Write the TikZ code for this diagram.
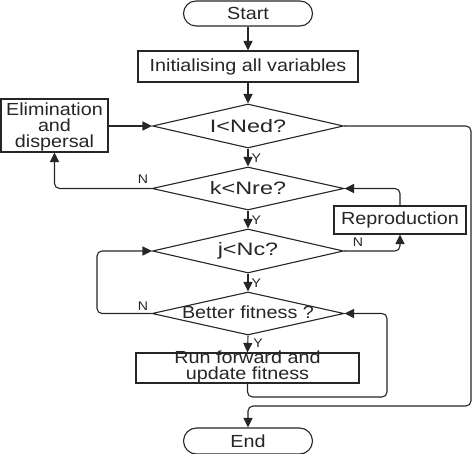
\documentclass[tikz,border=0pt]{standalone}
\usepackage{fontspec}
\setmainfont{Liberation Sans}
\usetikzlibrary{shapes.geometric,shapes.misc,arrows.meta}
\newcommand{\sx}[1]{\scalebox{1.13}[1]{#1}}
\newcommand{\dx}[1]{\scalebox{1.3}[1]{#1}}
\definecolor{lc}{HTML}{262626}
\tikzset{
  base/.style={draw=lc, line width=1.1pt, inner sep=0pt, fill=white},
  boxnode/.style={base, rectangle},
  decnode/.style={base, diamond},
  termnode/.style={base, rounded rectangle},
  every label/.style={font=\fontsize{17.5}{16}\selectfont, inner sep=0pt, align=center, text=lc},
  flow/.style={draw=lc, line width=1.1pt, rounded corners=5pt, -{Triangle[length=9.5pt,width=9pt]}},
  lbl/.style={font=\fontsize{12.5}{12.5}\selectfont, inner sep=0pt, text=lc},
}
\begin{document}
\begin{tikzpicture}[x=1pt,y=-1pt]
\useasboundingbox (0,0) rectangle (474,454);
\node[termnode, minimum width=129pt, minimum height=25pt, label=center:{\sx{Start}}] (start) at (248,13.5) {};
\node[boxnode, minimum width=220pt, minimum height=31pt, label=center:{\sx{Initialising all variables}}] (init) at (248,66.5) {};
\node[decnode, minimum width=191pt, minimum height=44pt, label={[font=\fontsize{18}{18}\selectfont]center:{\dx{I<Ned?}}}] (d1) at (248,126) {};
\node[boxnode, minimum width=107pt, minimum height=53pt, label={[yshift=-1pt]center:{\sx{Elimination}\\\sx{and}\\\sx{dispersal}}}] (elim) at (54.5,125.5) {};
\node[decnode, minimum width=192pt, minimum height=43pt, label={[font=\fontsize{18}{18}\selectfont]center:{\dx{k<Nre?}}}] (d2) at (248,188.5) {};
\node[decnode, minimum width=191pt, minimum height=44pt, label={[font=\fontsize{18}{18}\selectfont]center:{\dx{j<Nc?}}}] (d3) at (248,251) {};
\node[boxnode, minimum width=132pt, minimum height=28pt, label=center:{\sx{Reproduction}}] (repro) at (400,220) {};
\node[decnode, minimum width=192pt, minimum height=43pt, label={[yshift=1pt]center:{\sx{Better fitness ?}}}] (d4) at (248,313.5) {};
\node[boxnode, minimum width=223pt, minimum height=30pt, label={[yshift=1pt]center:{\sx{Run forward and}\\\sx{update fitness}}}] (run) at (247.5,368) {};
\node[termnode, minimum width=129pt, minimum height=26pt, label=center:{\sx{End}}] (end) at (248,441) {};

\coordinate (lx) at (97,0);
\coordinate (r1) at (387,397);
\coordinate (o1) at (471,406);

\draw[flow] (start) -- (init);
\draw[flow] (init) -- (d1);
\draw[flow] (elim.east |- d1.west) -- (d1.west);
\draw[flow] (d1.south) -- node[lbl, pos=0.55, anchor=west, xshift=3pt]{\sx{Y}} (d2.north);
\draw[flow] (d2.west) -| (elim.south);
\draw[flow] (d2.south) -- node[lbl, pos=0.55, anchor=west, xshift=3pt]{\sx{Y}} (d3.north);
\draw[flow] (d3.east) -| (repro.south);
\draw[flow] (repro.north) |- (d2.east);
\draw[flow] (d3.south) -- node[lbl, pos=0.55, anchor=west, xshift=3pt]{\sx{Y}} (d4.north);
\draw[flow] (d4.west) -- (d4.west -| lx) |- (d3.west);
\draw[flow] (d4.south) -- node[lbl, pos=0.45, anchor=west, xshift=5pt]{\sx{Y}} (run.north);
\draw[flow] (run.south) |- (r1) |- (d4.east);
\draw[flow] (d1.east) -| (o1) -| (end.north);

\node[lbl] (n1) at (143,179) {\sx{N}};
\node[lbl] (n2) at (358,242) {\sx{N}};
\node[lbl] (n3) at (143,306) {\sx{N}};
\end{tikzpicture}
\end{document}
